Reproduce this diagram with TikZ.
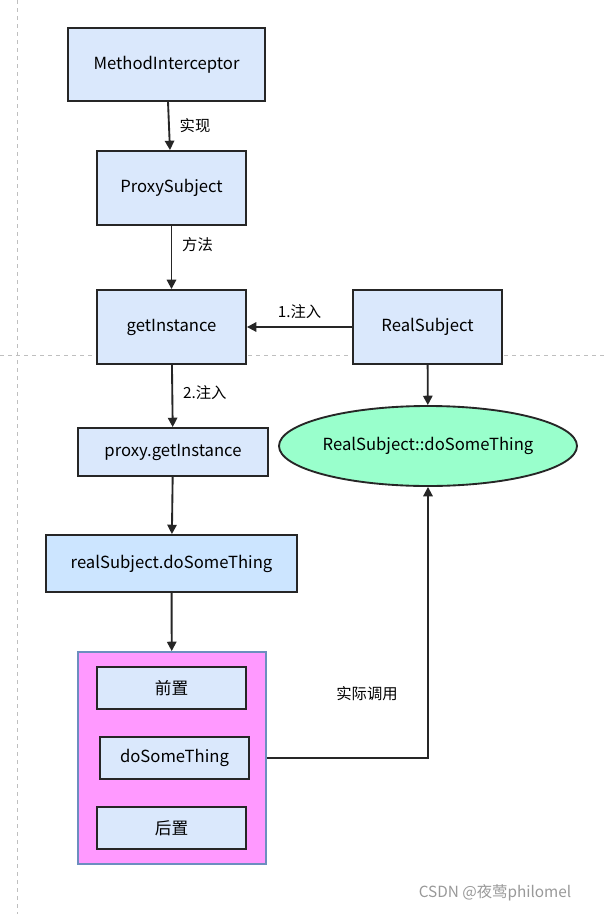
\documentclass[tikz,border=0pt]{standalone}
\usepackage{fontspec}
\setmainfont{Noto Sans CJK SC}
\usetikzlibrary{arrows.meta,shapes.geometric}
\definecolor{boxblue}{HTML}{DAE8FC}
\definecolor{boxblue2}{HTML}{CCE5FF}
\definecolor{mint}{HTML}{99FFCC}
\definecolor{pink}{HTML}{FF99FF}
\definecolor{pinkborder}{HTML}{6C8EBF}
\begin{document}
\begin{tikzpicture}[x=0.75pt,y=-0.75pt,
  fs/.style={font=\fontsize{12.5}{14}\selectfont},
  box/.style={draw=black!85,line width=1.4pt,fill=boxblue,inner sep=0pt,fs},
  arr/.style={draw=black!85,line width=1.4pt,-{Triangle[length=7pt,width=7pt]}},
  lab/.style={font=\fontsize{11.5}{13}\selectfont},
  guide/.style={draw=black!25,dashed,line width=0.6pt}]
\useasboundingbox (0,0) rectangle (604,914);
\fill[white] (0,0) rectangle (604,914);
\draw[guide] (17,0) -- (17,914);
\draw[guide] (0,355) -- (604,355);

\node[box,minimum width=147.75pt,minimum height=54.75pt] (mi) at (166.5,64.5) {MethodInterceptor};
\node[box,minimum width=111.75pt,minimum height=55.5pt] (ps) at (171.5,188) {ProxySubject};
\node[box,minimum width=111.75pt,minimum height=55.5pt] (gi) at (171.5,327) {getInstance};
\node[box,minimum width=111.75pt,minimum height=55.5pt] (rs) at (427.5,327) {RealSubject};
\node[ellipse,draw=black!85,line width=1.4pt,fill=mint,minimum width=183pt,minimum height=60pt,inner sep=0pt,fs] (el) at (428,446) {RealSubject::doSomeThing};
\node[box,minimum width=142.5pt,minimum height=36pt] (pg) at (173,452) {proxy.getInstance};
\node[box,fill=boxblue2,minimum width=188.25pt,minimum height=42.75pt] (rd) at (171.5,563.5) {realSubject.doSomeThing};
\node[draw=pinkborder,line width=1.4pt,fill=pink,minimum width=141pt,minimum height=159pt,inner sep=0pt] (ct) at (172,758) {};
\node[box,minimum width=111.75pt,minimum height=31.5pt] (pre) at (171.5,688) {前置};
\node[box,minimum width=111.75pt,minimum height=31.5pt] (ds) at (174.5,758) {doSomeThing};
\node[box,minimum width=111.75pt,minimum height=31.5pt] (post) at (171.5,828) {后置};

\draw[arr] (mi) -- (ps) node[lab,midway,right=4pt] {实现};
\draw[arr] (ps) -- (gi) node[lab,pos=0.3,right=4pt] {方法};
\draw[arr] (rs) -- (gi) node[lab,midway,above=2pt] {1.注入};
\draw[arr] (rs) -- (el);
\draw[arr] (gi) -- (pg) node[lab,pos=0.45,right=4pt] {2.注入};
\draw[arr] (pg) -- (rd);
\draw[arr] (rd) -- (ct);
\draw[arr] (ct.east |- ds) -- (428,758) -- (el.south);
\node[lab] at (367,694) {实际调用};
\node[font=\fontsize{11.5}{13}\selectfont,text=black!40] at (495,893) {CSDN @夜莺philomel};
\end{tikzpicture}
\end{document}
